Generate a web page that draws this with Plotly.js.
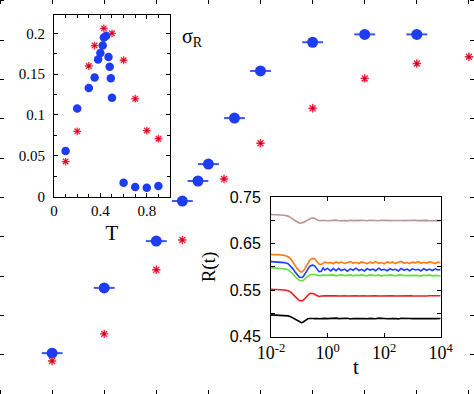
<!DOCTYPE html>
<html><head><meta charset="utf-8">
<script src="https://cdn.plot.ly/plotly-3.0.1.min.js"></script>
<style>html,body{margin:0;padding:0;overflow:hidden;background:#fff;width:474px;height:394px}
#plot{position:absolute;left:-2px;top:-2px;width:478px;height:398px}</style>
</head><body><div id="plot"></div>
<script>
// ---- main panel (no tick labels in the picture: values in tick units) ----
const mainBlueX = [1, 2, 3, 3.5, 3.8, 4, 4.5, 5, 6, 7, 8];
const mainBlueY = [1.04, 2.70, 3.89, 4.91, 5.42, 5.85, 7.02, 8.22, 8.95, 9.15, 9.15];
const mainBlueErr = [0.2, 0.2, 0.2, 0.2, 0.2, 0.2, 0.2, 0.2, 0.2, 0.2, 0.2];
const mainRedX = [1, 2, 3, 3.5, 4.3, 5, 6, 7, 8, 9];
const mainRedY = [0.84, 1.53, 3.16, 3.92, 5.47, 6.38, 7.27, 8.03, 8.41, 8.58];

// ---- inset 1: sigma_R vs T ----
const sigBlueT = [0.1, 0.2, 0.3, 0.35, 0.38, 0.4, 0.42, 0.43, 0.45, 0.47, 0.48, 0.49, 0.5, 0.6, 0.7, 0.8, 0.9];
const sigBlue  = [0.056, 0.108, 0.133, 0.146, 0.168, 0.176, 0.185, 0.195, 0.197, 0.171, 0.159, 0.145, 0.121, 0.017, 0.012, 0.011, 0.013];
const sigRedT = [0.1, 0.2, 0.3, 0.35, 0.43, 0.5, 0.6, 0.7, 0.8, 0.9];
const sigRed  = [0.043, 0.080, 0.160, 0.185, 0.206, 0.200, 0.167, 0.120, 0.081, 0.071];
const insetXTicks = [0, 0.4, 0.8];
const insetYTicks = [0, 0.05, 0.1, 0.15, 0.2];

// ---- inset 2: R(t) ----
const tVals = [0.01,0.015,0.02,0.03,0.04,0.05,0.06,0.07,0.08,0.09,0.1,0.11,0.12,0.13,0.14,0.16,0.18,0.2,0.23,0.26,0.3,0.35,0.4,0.45,0.5,0.6,0.7,0.8,1,
  1.3,1.6,2,2.5,3,4,5,6.5,8,10,13,16,20,25,32,40,50,65,80,100,130,160,200,250,320,400,500,650,800,1000,1300,1600,2000,2500,3200,4000,5000,6500,8000,10000];
const rPink = [.713,.713,.7125,.7115,.7095,.7065,.703,.700,.6975,.6958,.6948,.6945,.6945,.695,.696,.698,.700,.702,.704,.705,.7055,.705,.7025,.7005,.6995,.700,.7008,.7,.6995,
  .7005,.6998,.7008,.6995,.7002,.7,.6992,.7006,.6998,.7003,.6996,.7004,.7,.6994,.7006,.6999,.7002,.6995,.7005,.6998,.7003,.6997,.7001,.7006,.6996,.7002,.6999,.7004,.6995,.7001,.7005,.6997,.7002,.6998,.7004,.6996,.7003,.6999,.7001,.6998];
const rOrange = [.627,.627,.6265,.625,.622,.617,.611,.604,.598,.594,.591,.5895,.589,.590,.592,.597,.603,.609,.614,.617,.6185,.618,.614,.6095,.6065,.6055,.608,.6105,.6085,
  .6095,.607,.611,.6085,.6105,.6075,.610,.6115,.608,.610,.6075,.611,.609,.607,.6105,.6085,.6115,.608,.6095,.607,.611,.609,.6105,.6075,.610,.612,.6085,.6095,.6075,.6105,.609,.6115,.608,.610,.6085,.611,.6095,.6075,.6105,.609];
const rBlue = [.6115,.6112,.611,.6095,.607,.602,.596,.590,.585,.581,.5785,.5775,.577,.578,.580,.585,.591,.596,.601,.603,.604,.6025,.598,.593,.590,.591,.598,.5935,.597,
  .5915,.5965,.592,.597,.5925,.5955,.591,.596,.593,.5975,.5925,.595,.5915,.5965,.5935,.5955,.592,.5975,.5935,.595,.592,.5965,.5935,.595,.5915,.597,.593,.5955,.592,.596,.5935,.595,.5915,.5965,.593,.5955,.5925,.596,.5935,.5945];
const rGreen = [.5985,.598,.5975,.596,.594,.590,.585,.580,.576,.573,.5715,.5705,.570,.5705,.572,.575,.578,.581,.583,.584,.5845,.584,.583,.582,.5815,.5815,.583,.582,.5825,
  .5815,.583,.581,.5825,.5835,.5815,.582,.583,.581,.5825,.5815,.5835,.582,.581,.583,.582,.5815,.583,.5805,.5825,.5815,.583,.582,.581,.5825,.5835,.5815,.582,.581,.583,.582,.5815,.5805,.5825,.5815,.583,.581,.582,.5815,.5805];
const rRed = [.552,.552,.5515,.5505,.549,.546,.541,.537,.533,.530,.528,.5275,.527,.5275,.529,.533,.537,.540,.5425,.5435,.5435,.542,.539,.5375,.5365,.5375,.5385,.538,.5378,
  .5383,.5376,.5381,.5377,.5384,.5379,.5375,.5382,.5378,.538,.5376,.5383,.5379,.5377,.5382,.5378,.5381,.5376,.538,.5383,.5377,.5379,.5382,.5376,.538,.5378,.5383,.5377,.5381,.5379,.5376,.5382,.5378,.538,.5377,.5381,.5379,.5383,.5378,.538];
const rBlack = [.497,.4968,.4965,.4958,.4948,.493,.4905,.488,.4855,.4835,.482,.481,.480,.4805,.482,.485,.487,.4885,.4892,.4898,.4893,.4888,.4895,.489,.4886,.4893,.489,.4895,.4888,
  .4893,.4886,.490,.4889,.4894,.4887,.4896,.4882,.4893,.4888,.4897,.4889,.4891,.4885,.4895,.489,.4887,.4899,.4888,.4892,.4886,.4894,.4889,.4891,.4883,.4896,.489,.4887,.4893,.4889,.4895,.4886,.4891,.4888,.4894,.4887,.4892,.489,.4889,.4891];
const rSeries = [rPink, rOrange, rBlue, rGreen, rRed, rBlack];
const rColors = ['#bc9494', '#ff7a10', '#1f3cff', '#66e040', '#ee1c24', '#000000'];
const tTickVals = [0.01, 1, 100, 10000];
const tTickText = ['10<sup>-2</sup>', '10<sup>0</sup>', '10<sup>2</sup>', '10<sup>4</sup>'];
const rTicks = [0.45, 0.55, 0.65, 0.75];

const BLUE = '#1f3cf5', RED = '#f2203a';
const serif = "Liberation Serif";
const sans = "Liberation Sans";

const traces = [
  {x: mainBlueX, y: mainBlueY, xaxis: 'x', yaxis: 'y', mode: 'markers', type: 'scatter',
   marker: {color: BLUE, size: 11},
   error_x: {type: 'data', array: mainBlueErr, color: '#3a58f0', thickness: 2, width: 0}},
  {x: mainRedX, y: mainRedY, xaxis: 'x', yaxis: 'y', mode: 'markers', type: 'scatter',
   marker: {symbol: 'asterisk-open', color: RED, size: 7, line: {color: RED, width: 1.4}}},
  {x: mainRedX, y: mainRedY, xaxis: 'x', yaxis: 'y', mode: 'markers', type: 'scatter',
   marker: {color: '#a01020', size: 2.5}},
  {x: sigBlueT, y: sigBlue, xaxis: 'x2', yaxis: 'y2', mode: 'markers', type: 'scatter',
   marker: {color: BLUE, size: 8.5}},
  {x: sigRedT, y: sigRed, xaxis: 'x2', yaxis: 'y2', mode: 'markers', type: 'scatter',
   marker: {symbol: 'asterisk-open', color: RED, size: 6.5, line: {color: RED, width: 1.3}}},
  {x: sigRedT, y: sigRed, xaxis: 'x2', yaxis: 'y2', mode: 'markers', type: 'scatter',
   marker: {color: '#a01020', size: 2.3}}
];
rSeries.forEach((s, i) => traces.push({x: tVals, y: s, xaxis: 'x3', yaxis: 'y3', mode: 'lines', type: 'scatter',
  line: {color: rColors[i], width: 1.6}}));

const frame = {showline: true, linecolor: '#000', linewidth: 1, mirror: 'ticks', ticks: 'inside',
  tickcolor: '#000', showgrid: false, zeroline: false};

const layout = {
  width: 478, height: 398, margin: {l: 0, r: 0, t: 0, b: 0, pad: 0},
  font: {family: serif, size: 15, color: '#000'},
  paper_bgcolor: '#fff', plot_bgcolor: 'rgba(0,0,0,0)', showlegend: false,
  xaxis: Object.assign({}, frame, {domain: [0, 1], range: [-0.0384, 9.136], tick0: 0, dtick: 1,
    ticklen: 6, showticklabels: false, anchor: 'y'}),
  yaxis: Object.assign({}, frame, {domain: [0, 1], range: [-0.0509, 10.076], tick0: 0, dtick: 1,
    ticklen: 6, showticklabels: false, anchor: 'x'}),
  xaxis2: Object.assign({}, frame, {domain: [0.11715, 0.35983], range: [0, 1], anchor: 'y2',
    tickmode: 'array', tickvals: insetXTicks, ticktext: ['0', '0.4', '0.8'], ticklen: 4,
    minor: {dtick: 0.1, tick0: 0, ticklen: 3, ticks: 'inside', tickcolor: '#000'},
    tickfont: {family: serif, size: 15, color: '#000'},
    title: {text: 'T', font: {family: serif, size: 21, color: '#000'}, standoff: 7}}),
  yaxis2: Object.assign({}, frame, {domain: [0.50075, 0.95729], range: [0, 0.2224], anchor: 'x2',
    tickmode: 'array', tickvals: insetYTicks, ticktext: ['0', '0.05', '0.1', '0.15', '0.2'], ticklen: 4,
    minor: {dtick: 0.025, tick0: 0, ticklen: 3, ticks: 'inside', tickcolor: '#000'},
    tickfont: {family: serif, size: 15, color: '#000'}, ticklabelstandoff: 5}),
  xaxis3: Object.assign({}, frame, {domain: [0.57113, 0.92615], type: 'log', range: [-2, 4], anchor: 'y3',
    tickmode: 'array', tickvals: tTickVals, ticktext: tTickText, ticklen: 4,
    tickfont: {family: serif, size: 18, color: '#000'}}),
  yaxis3: Object.assign({}, frame, {domain: [0.14899, 0.49925], range: [0.45, 0.75], anchor: 'x3',
    tickmode: 'array', tickvals: rTicks, ticktext: ['0.45', '0.55', '0.65', '0.75'], ticklen: 4,
    minor: {dtick: 0.05, tick0: 0.45, ticklen: 4, ticks: 'inside', tickcolor: '#000'},
    tickfont: {family: sans, size: 16, color: '#000'}, ticklabelstandoff: 6,
    title: {text: 'R(t)', font: {family: serif, size: 19, color: '#000'}, standoff: 9}}),
  annotations: [
    {xref: 'paper', yref: 'paper', x: 0.406, y: 0.8995, text: 'σ<sub>R</sub>', showarrow: false,
     xanchor: 'center', yanchor: 'middle', font: {family: serif, size: 20, color: '#000'}},
    {xref: 'paper', yref: 'paper', x: (356 + 2) / 478, y: 1 - (367 + 2) / 398, text: 't', showarrow: false,
     xanchor: 'center', yanchor: 'middle', font: {family: serif, size: 21, color: '#000'}}
  ]
};
Plotly.newPlot('plot', traces, layout, {staticPlot: true, displayModeBar: false});
</script></body></html>
